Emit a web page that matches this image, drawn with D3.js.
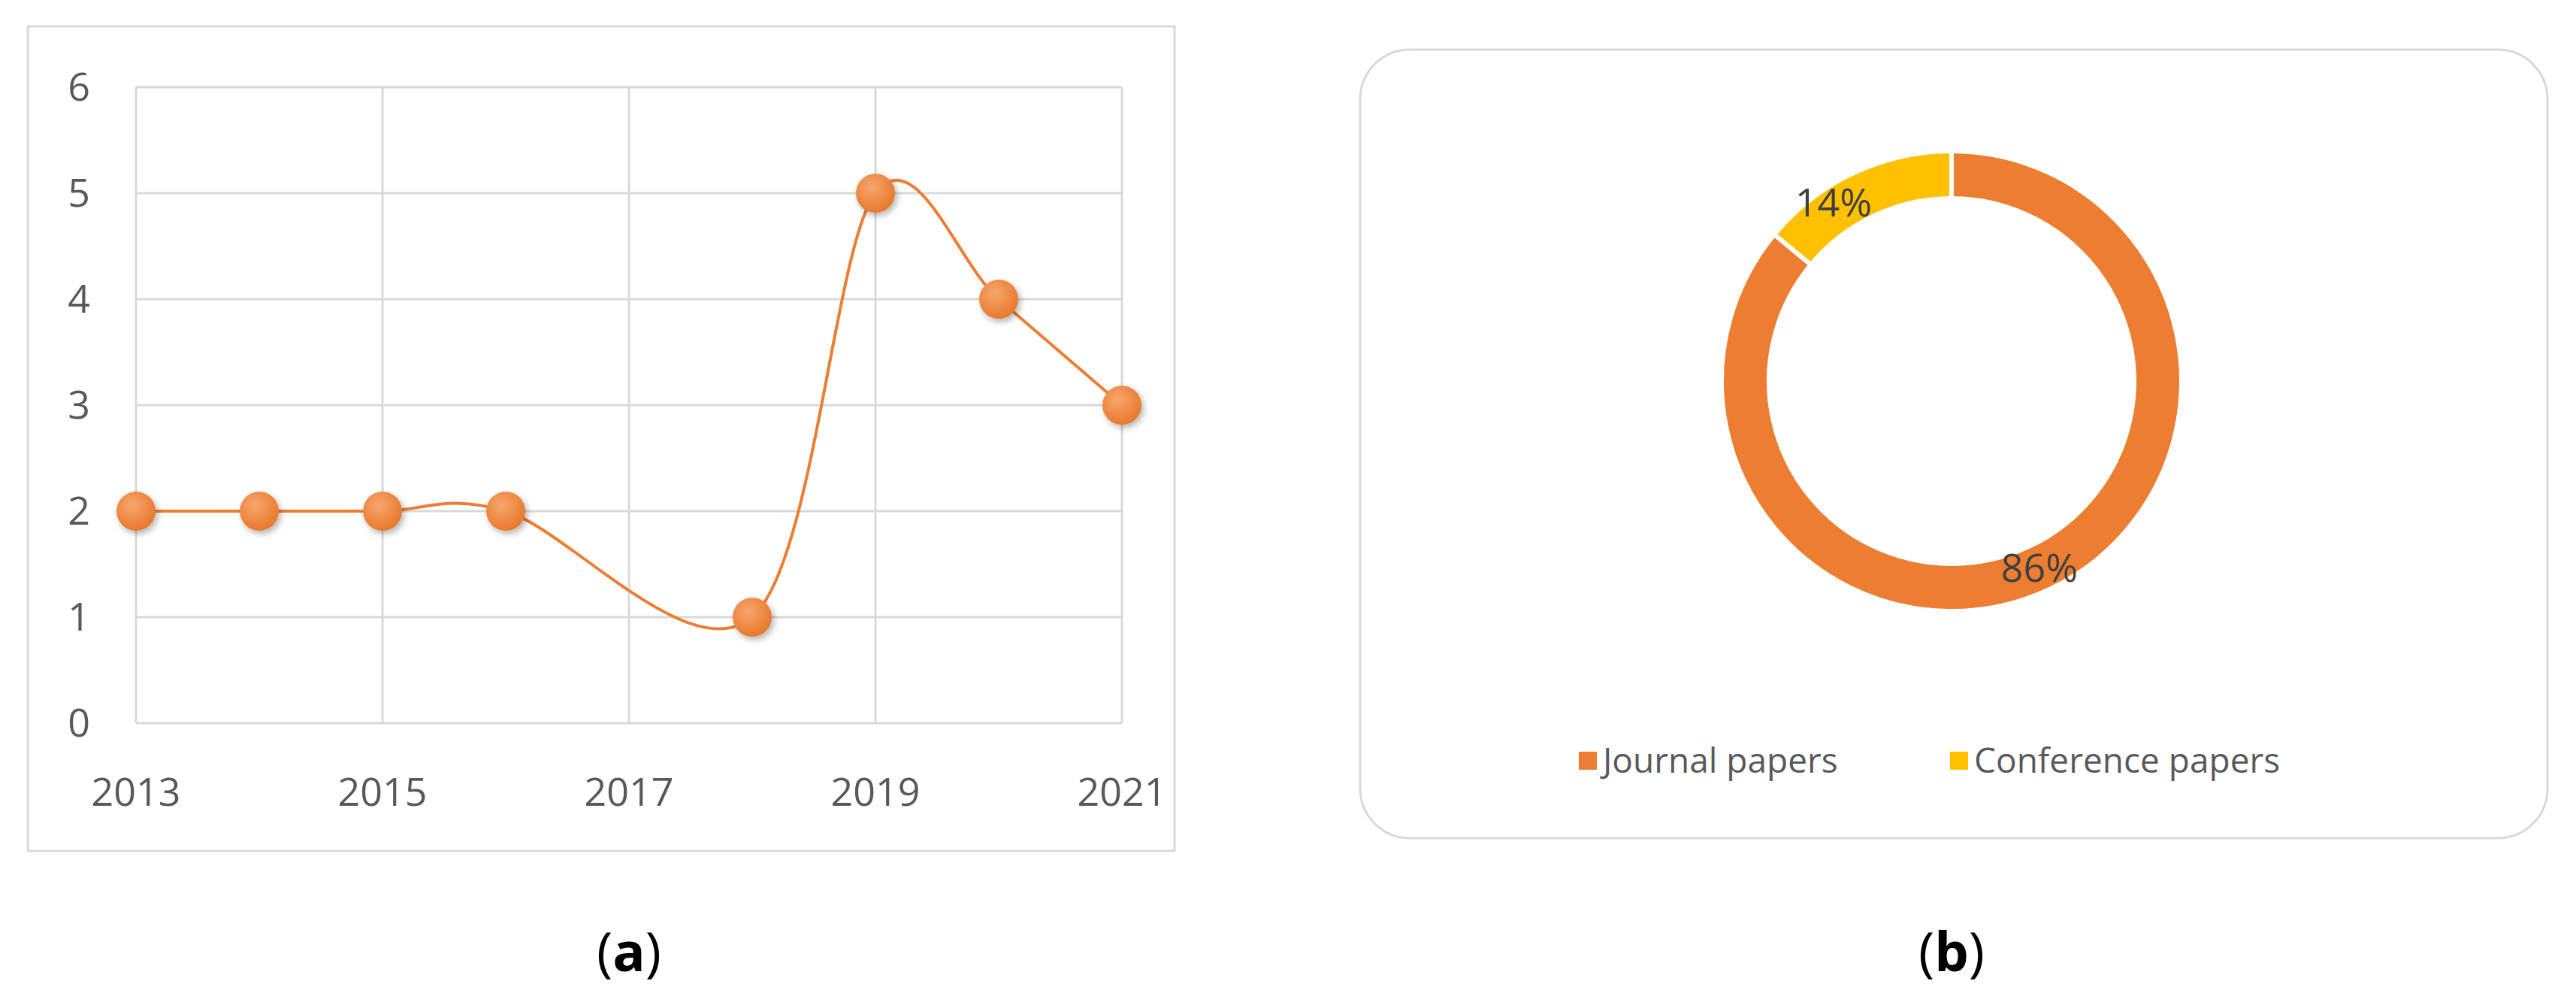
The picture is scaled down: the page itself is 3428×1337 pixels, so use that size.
<!DOCTYPE html>
<html><head><meta charset="utf-8">
<script src="https://cdn.jsdelivr.net/npm/d3@7"></script>
<style>body{margin:0;background:#fff}text{font-family:"Open Sans",sans-serif}</style>
</head><body>
<svg id="c" width="3428" height="1337"></svg>
<script>
const years=[2013,2014,2015,2016,2017,2018,2019,2020,2021];
const counts=[2,2,2,2,null,1,5,4,3];
const yTicks=[0,1,2,3,4,5,6];
const xTickYears=[2013,2015,2017,2019,2021];
const pieLabels=["Journal papers","Conference papers"];
const pieValues=[86,14];
const pieColors=["#ED7D31","#FFC000"];

const svg=d3.select("#c");
const defs=svg.append("defs");
const g1=defs.append("radialGradient").attr("id","mk").attr("cx","40%").attr("cy","35%").attr("r","65%");
g1.append("stop").attr("offset","0%").attr("stop-color","#F7A66E");
g1.append("stop").attr("offset","100%").attr("stop-color","#E8792C");
const f=defs.append("filter").attr("id","sh").attr("x","-50%").attr("y","-50%").attr("width","200%").attr("height","200%");
f.append("feDropShadow").attr("dx",3).attr("dy",4).attr("stdDeviation",4).attr("flood-color","#000").attr("flood-opacity",0.3);

// Panel a
svg.append("rect").attr("x",37).attr("y",35).attr("width",1526).attr("height",1097).attr("fill","#fff").attr("stroke","#d9d9d9").attr("stroke-width",3);
const x=d3.scaleLinear().domain([2013,2021]).range([181,1493]);
const y=d3.scaleLinear().domain([0,6]).range([962,116]);
svg.append("g").selectAll("line").data(yTicks).join("line")
 .attr("x1",x(2013)).attr("x2",x(2021)).attr("y1",d=>y(d)).attr("y2",d=>y(d)).attr("stroke","#d9d9d9").attr("stroke-width",3);
svg.append("g").selectAll("line").data(xTickYears).join("line")
 .attr("x1",d=>x(d)).attr("x2",d=>x(d)).attr("y1",y(0)).attr("y2",y(6)).attr("stroke","#d9d9d9").attr("stroke-width",3);
svg.append("g").selectAll("text").data(yTicks).join("text")
 .attr("x",120).attr("y",d=>y(d)).attr("dy","0.35em").attr("text-anchor","end").attr("font-size",52).attr("fill","#595959").text(d=>d);
svg.append("g").selectAll("text").data(xTickYears).join("text")
 .attr("x",d=>x(d)).attr("y",1054).attr("dy","0.35em").attr("text-anchor","middle").attr("font-size",52).attr("fill","#595959").text(d=>d);
const pts=years.map((yr,i)=>({yr,v:counts[i]})).filter(d=>d.v!==null);
svg.append("path").datum(pts).attr("fill","none").attr("stroke","#ED7D31").attr("stroke-width",4)
 .attr("d",d3.line().x(d=>x(d.yr)).y(d=>y(d.v)).curve(d3.curveCatmullRom.alpha(0)));
svg.append("g").selectAll("circle").data(pts).join("circle")
 .attr("cx",d=>x(d.yr)).attr("cy",d=>y(d.v)).attr("r",26).attr("fill","url(#mk)").attr("filter","url(#sh)");
svg.append("text").attr("x",837).attr("y",1292).attr("text-anchor","middle").attr("font-size",72).attr("font-family","Liberation Serif,serif").html('(<tspan font-weight="bold">a</tspan>)');

// Panel b
svg.append("rect").attr("x",1810).attr("y",66).attr("width",1580).attr("height",1049).attr("rx",66).attr("fill","#fff").attr("stroke","#d9d9d9").attr("stroke-width",3);
const cx=2597,cy=507;
const pie=d3.pie().sort(null).value(d=>d)(pieValues);
const arc=d3.arc().innerRadius(243).outerRadius(306);
const pg=svg.append("g").attr("transform",`translate(${cx},${cy})`);
pg.selectAll("path").data(pie).join("path").attr("d",arc).attr("fill",(d,i)=>pieColors[i]).attr("stroke","#fff").attr("stroke-width",6);
const lab=d3.arc().innerRadius(275).outerRadius(275);
pg.selectAll("text").data(pie).join("text")
 .attr("transform",d=>{const c=lab.centroid(d);return `translate(${c[0]+(d.index===1?-40:0)},${c[1]+(d.index===1?12:0)})`;})
 .attr("text-anchor","middle").attr("dy","0.35em").attr("font-size",52).attr("fill","#404040").text(d=>d.data+"%");
const legX=[2101,2595];
const lg=svg.append("g").selectAll("g").data(pieLabels).join("g").attr("transform",(d,i)=>`translate(${legX[i]},1012)`);
lg.append("rect").attr("x",0).attr("y",-12).attr("width",24).attr("height",24).attr("fill",(d,i)=>pieColors[i]);
lg.append("text").attr("x",32).attr("dy","0.35em").attr("font-size",46).attr("fill","#595959").text(d=>d);
svg.append("text").attr("x",2597).attr("y",1292).attr("text-anchor","middle").attr("font-size",72).attr("font-family","Liberation Serif,serif").html('(<tspan font-weight="bold">b</tspan>)');
</script>
</body></html>
